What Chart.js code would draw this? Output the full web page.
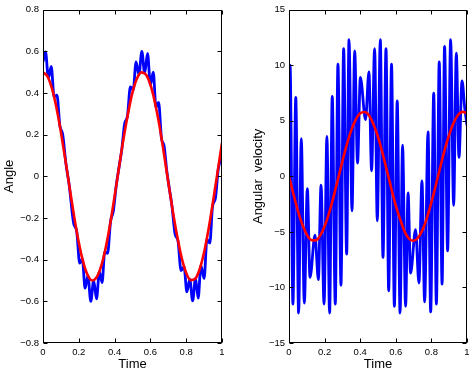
<!DOCTYPE html>
<html>
<head>
<meta charset="utf-8">
<script src="https://cdn.jsdelivr.net/npm/chart.js@4.4.1/dist/chart.umd.min.js"></script>
<style>
  html, body { margin: 0; padding: 0; background: #fff; }
  #wrap { position: relative; width: 474px; height: 374px; }
  canvas { position: absolute; top: 0; }
  #angleChart { left: 0; }
  #velChart { left: 237px; }
</style>
</head>
<body>
<div id="wrap">
  <canvas id="angleChart" width="237" height="374"></canvas>
  <canvas id="velChart" width="237" height="374"></canvas>
</div>
<script>
// smooth (red) curves, sampled every 0.025 s
const slowTime = [0, 0.025, 0.05, 0.075, 0.1, 0.125, 0.15, 0.175, 0.2, 0.225, 0.25, 0.275, 0.3, 0.325, 0.35, 0.375, 0.4, 0.425, 0.45, 0.475, 0.5, 0.525, 0.55, 0.575, 0.6, 0.625, 0.65, 0.675, 0.7, 0.725, 0.75, 0.775, 0.8, 0.825, 0.85, 0.875, 0.9, 0.925, 0.95, 0.975, 1.0];
const angleSlow = [0.5, 0.48, 0.422, 0.331, 0.213, 0.079, -0.062, -0.198, -0.318, -0.413, -0.475, -0.5, -0.484, -0.431, -0.344, -0.23, -0.096, 0.045, 0.182, 0.302, 0.403, 0.47, 0.499, 0.489, 0.44, 0.356, 0.246, 0.113, -0.028, -0.166, -0.289, -0.392, -0.464, -0.498, -0.492, -0.446, -0.364, -0.253, -0.121, 0.019, 0.16];
const velocitySlow = [0, -1.61, -3.1, -4.34, -5.24, -5.72, -5.76, -5.34, -4.5, -3.31, -1.85, -0.26, 1.36, 2.87, 4.16, 5.11, 5.67, 5.79, 5.48, 4.67, 3.56, 2.12, 0.52, -1.1, -2.64, -3.9, -4.98, -5.62, -5.8, -5.53, -4.82, -3.73, -2.35, -0.79, 0.84, 2.41, 3.76, 4.82, 5.52, 5.8, 5.67];

// full (blue) curves, read at the ripple turning points
const angleTime = [0, 0.014, 0.03, 0.046, 0.062, 0.078, 0.094, 0.11, 0.128, 0.146, 0.172, 0.188, 0.205, 0.22, 0.235, 0.251, 0.267, 0.283, 0.299, 0.315, 0.33, 0.345, 0.361, 0.377, 0.393, 0.409, 0.425, 0.44, 0.456, 0.472, 0.488, 0.504, 0.52, 0.536, 0.552, 0.568, 0.584, 0.6, 0.616, 0.631, 0.646, 0.662, 0.676, 0.692, 0.706, 0.72, 0.738, 0.754, 0.771, 0.788, 0.804, 0.82, 0.836, 0.852, 0.867, 0.882, 0.9, 0.916, 0.932, 0.947, 0.963, 0.979, 1.0];
const angleFast = [0.55, 0.598, 0.472, 0.528, 0.382, 0.39, 0.244, 0.201, 0.062, -0.04, -0.229, -0.262, -0.417, -0.396, -0.537, -0.477, -0.6, -0.499, -0.588, -0.457, -0.51, -0.363, -0.37, -0.219, -0.166, -0.045, 0.045, 0.128, 0.252, 0.291, 0.429, 0.414, 0.55, 0.487, 0.6, 0.495, 0.59, 0.44, 0.5, 0.331, 0.355, 0.181, 0.148, 0.023, -0.06, -0.139, -0.278, -0.309, -0.452, -0.434, -0.555, -0.494, -0.598, -0.49, -0.585, -0.428, -0.49, -0.302, -0.32, -0.145, -0.106, 0.034, 0.095];
const velocityTime = [0, 0.006, 0.022, 0.038, 0.054, 0.069, 0.086, 0.103, 0.118, 0.146, 0.165, 0.18, 0.197, 0.213, 0.228, 0.243, 0.26, 0.275, 0.292, 0.307, 0.324, 0.337, 0.354, 0.369, 0.385, 0.401, 0.43, 0.449, 0.464, 0.481, 0.496, 0.513, 0.528, 0.545, 0.56, 0.576, 0.592, 0.608, 0.624, 0.638, 0.655, 0.669, 0.683, 0.711, 0.73, 0.747, 0.762, 0.781, 0.796, 0.813, 0.828, 0.844, 0.86, 0.874, 0.891, 0.908, 0.925, 0.94, 0.955, 0.972, 0.987, 1.0];
const velocityFast = [9.6, 10.0, -11.5, 7.1, -12.3, 3.4, -11.4, -1.1, -9.1, -5.3, -9.3, -0.8, -11.5, 3.6, -12.3, 7.2, -11.5, 10.1, -9.8, 11.5, -7.0, 12.3, -3.1, 11.3, 1.2, 8.9, 5.1, 9.4, 0.5, 11.5, -4.0, 12.3, -7.3, 11.5, -10.3, 10.1, -11.7, 6.8, -12.3, 2.8, -11.7, -1.5, -8.7, -4.8, -9.6, -0.4, -11.3, 4.0, -12.2, 7.5, -11.5, 10.3, -9.7, 11.7, -6.7, 12.3, -2.6, 11.1, 1.7, 8.6, 6.2, 4.6];

const timeTickLabels = ["0", "0.2", "0.4", "0.6", "0.8", "1"];
const angleTickLabels = ["\u22120.8", "\u22120.6", "\u22120.4", "\u22120.2", "0", "0.2", "0.4", "0.6", "0.8"];
const velocityTickLabels = ["\u221215", "\u221210", "\u22125", "0", "5", "10", "15"];

Chart.defaults.font.family = "'Liberation Sans', Arial, Helvetica, sans-serif";
Chart.defaults.color = "#000";

function toPoints(xs, ys) {
  return xs.map((x, i) => ({ x: x, y: ys[i] }));
}

// matlab style box with inward ticks on all four sides
const boxFrame = {
  id: "boxFrame",
  afterDraw(chart) {
    const { ctx, chartArea: a, scales } = chart;
    const L = Math.round(a.left) + 0.5;
    const R = Math.round(a.right) - 0.5;
    const T = Math.round(a.top) + 0.5;
    const B = Math.round(a.bottom) - 0.5;
    const len = 4;
    ctx.save();
    ctx.strokeStyle = "#000";
    ctx.lineWidth = 1;
    ctx.strokeRect(L, T, R - L, B - T);
    ctx.beginPath();
    scales.x.ticks.forEach((t) => {
      const px = Math.round(scales.x.getPixelForValue(t.value)) + 0.5;
      ctx.moveTo(px, B);
      ctx.lineTo(px, B - len);
      ctx.moveTo(px, T);
      ctx.lineTo(px, T + len);
    });
    scales.y.ticks.forEach((t) => {
      const py = Math.round(scales.y.getPixelForValue(t.value)) + 0.5;
      ctx.moveTo(L, py);
      ctx.lineTo(L + len, py);
      ctx.moveTo(R, py);
      ctx.lineTo(R - len, py);
    });
    ctx.stroke();
    ctx.restore();
  },
};

function makeChart(el, opts) {
  return new Chart(el, {
    type: "line",
    data: {
      datasets: [
        {
          data: toPoints(slowTime, opts.slow),
          borderColor: "rgb(255, 0, 0)",
          borderWidth: 2.6,
          pointRadius: 0,
          cubicInterpolationMode: "monotone",
        },
        {
          data: toPoints(opts.fastTime, opts.fast),
          borderColor: "rgb(0, 0, 255)",
          borderWidth: 2.8,
          pointRadius: 0,
          cubicInterpolationMode: "monotone",
        },
      ],
    },
    options: {
      responsive: false,
      animation: false,
      devicePixelRatio: 1,
      layout: { padding: { top: 9, right: opts.padRight, bottom: 0, left: 0 } },
      plugins: { legend: { display: false }, tooltip: { enabled: false } },
      scales: {
        x: {
          type: "linear",
          min: 0,
          max: 1,
          grid: { display: false, drawTicks: false },
          border: { display: false },
          ticks: {
            stepSize: 0.2,
            autoSkip: false,
            maxRotation: 0,
            padding: 4,
            font: { size: 9.5 },
            callback: (v, i) => timeTickLabels[i],
          },
          title: {
            display: true,
            text: "Time",
            font: { size: 13 },
            padding: { top: 0, bottom: 2 },
          },
          afterFit: (s) => { s.height = 31; },
        },
        y: {
          type: "linear",
          min: opts.yMin,
          max: opts.yMax,
          grid: { display: false, drawTicks: false },
          border: { display: false },
          ticks: {
            stepSize: opts.yStep,
            autoSkip: false,
            padding: 4,
            font: { size: 9.5 },
            callback: (v, i) => opts.yLabels[i],
          },
          title: {
            display: true,
            text: opts.yTitle,
            font: { size: 13 },
            padding: { top: opts.titlePad, bottom: 0 },
          },
          afterFit: (s) => { s.width = opts.yWidth; },
        },
      },
    },
    plugins: [boxFrame],
  });
}

makeChart(document.getElementById("angleChart"), {
  slow: angleSlow,
  fastTime: angleTime,
  fast: angleFast,
  yMin: -0.8,
  yMax: 0.8,
  yStep: 0.2,
  yLabels: angleTickLabels,
  yTitle: "Angle",
  titlePad: 2,
  yWidth: 43,
  padRight: 15,
});

makeChart(document.getElementById("velChart"), {
  slow: velocitySlow,
  fastTime: velocityTime,
  fast: velocityFast,
  yMin: -15,
  yMax: 15,
  yStep: 5,
  yLabels: velocityTickLabels,
  yTitle: "Angular  velocity",
  titlePad: 14,
  yWidth: 52,
  padRight: 7,
});
</script>
</body>
</html>
